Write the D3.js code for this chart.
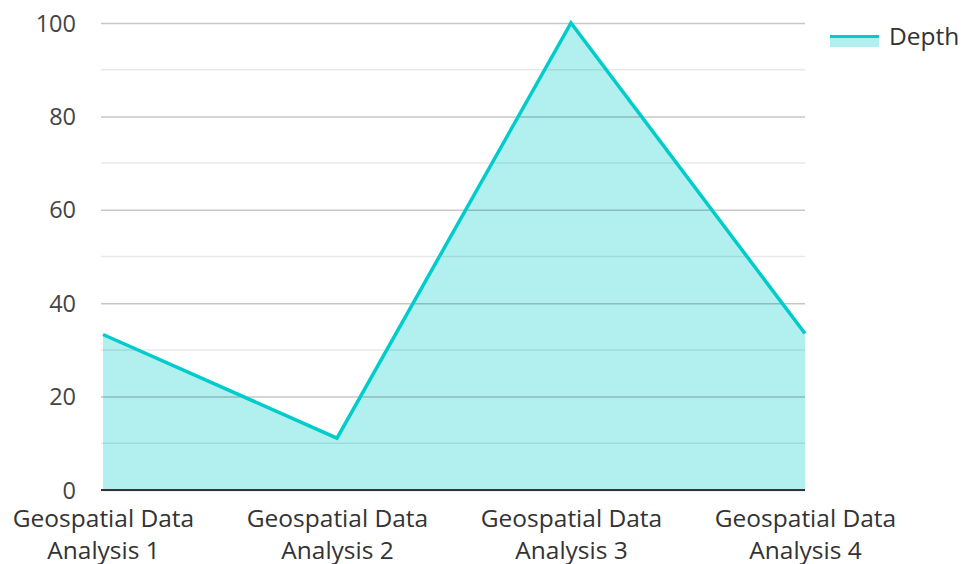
<!DOCTYPE html>
<html>
<head>
    <meta charset="utf-8">
    <style>
        body { margin: 0; background: #fff; font-family: "Open Sans", sans-serif; }
        svg { display: block; }
        .axis { font-family: "Open Sans", sans-serif; }
        .y .tick text { font-size: 23.5px; fill: #444; font-family: "Open Sans", sans-serif; }
        .x .tick text { font-size: 24.5px; fill: #333; font-family: "Open Sans", sans-serif; }
        .domain { display: none; }
    </style>
</head>
<body>
    <svg width="962" height="564"></svg>
<script src="https://d3js.org/d3.v7.min.js"></script>
<script>
    // chart data
    let categories = ["Geospatial Data Analysis 1", "Geospatial Data Analysis 2",
        "Geospatial Data Analysis 3", "Geospatial Data Analysis 4"]
    let depth = [33.3, 11.1, 100, 33.5]
    let yTicks = [0, 20, 40, 60, 80, 100]
    let minorTicks = [10, 30, 50, 70, 90]
    let seriesName = "Depth"

    let margin = { top: 23, right: 157, bottom: 74, left: 103 }
    let width = 962, height = 564

    let svg = d3.select("svg")

    let x = d3.scalePoint()
        .domain(categories)
        .range([margin.left, width - margin.right])

    let y = d3.scaleLinear()
        .domain([0, 100])
        .range([height - margin.bottom, margin.top])

    let data = categories.map((c, i) => ({ cat: c, v: depth[i] }))

    // area first, gridlines drawn on top so they show through
    let area = d3.area()
        .x(d => x(d.cat))
        .y0(y(0))
        .y1(d => y(d.v))

    svg.append("path")
        .datum(data)
        .attr("fill", "#00cccc")
        .attr("fill-opacity", 0.3)
        .attr("d", area)

    // minor grid
    svg.append("g")
        .selectAll("line")
        .data(minorTicks)
        .join("line")
        .attr("x1", margin.left - 2)
        .attr("x2", width - margin.right)
        .attr("y1", d => y(d))
        .attr("y2", d => y(d))
        .attr("stroke", "rgba(0,0,0,0.09)")
        .attr("stroke-width", 1.5)

    // major grid + labels
    let yAxis = svg.append("g")
        .attr("class", "y axis")
        .attr("transform", `translate(${margin.left - 2},0)`)
        .call(d3.axisLeft(y).tickValues(yTicks).tickSize(0).tickPadding(25))
        .attr("font-family", "Open Sans, sans-serif")
    yAxis.selectAll(".tick line")
        .attr("x2", width - margin.right - margin.left + 2)
        .attr("stroke", "rgba(0,0,0,0.22)")
        .attr("stroke-width", 1.5)
    yAxis.selectAll(".tick text").attr("dy", "0.34em")

    let line = d3.line()
        .x(d => x(d.cat))
        .y(d => y(d.v))

    svg.append("path")
        .datum(data)
        .attr("fill", "none")
        .attr("stroke", "#00cccc")
        .attr("stroke-width", 3.5)
        .attr("d", line)

    // baseline
    svg.append("line")
        .attr("x1", margin.left - 2)
        .attr("x2", width - margin.right)
        .attr("y1", y(0))
        .attr("y2", y(0))
        .attr("stroke", "#333")
        .attr("stroke-width", 2)

    // x axis with wrapped labels
    let xAxis = svg.append("g")
        .attr("class", "x axis")
        .attr("transform", `translate(0,${y(0)})`)
        .call(d3.axisBottom(x).tickSize(0).tickPadding(0))
        .attr("font-family", "Open Sans, sans-serif")
    xAxis.selectAll(".tick text").each(function (d) {
        let t = d3.select(this)
        let words = d.split(" ")
        let l1 = words.slice(0, 2).join(" ")
        let l2 = words.slice(2).join(" ")
        t.text(null).attr("y", 0).attr("dy", null)
        t.append("tspan").attr("x", 0).attr("y", 37).text(l1)
        t.append("tspan").attr("x", 0).attr("y", 69).text(l2)
    })

    // legend
    let lg = svg.append("g").attr("transform", "translate(830,35)")
    lg.append("rect")
        .attr("x", 0).attr("y", 0).attr("width", 49).attr("height", 12)
        .attr("fill", "#00cccc").attr("fill-opacity", 0.3)
    lg.append("line")
        .attr("x1", 0).attr("x2", 49).attr("y1", 1.5).attr("y2", 1.5)
        .attr("stroke", "#00cccc").attr("stroke-width", 3)
    lg.append("text")
        .attr("x", 59).attr("y", 1)
        .attr("dy", "0.35em")
        .style("font-size", "24.5px")
        .style("fill", "#333")
        .text(seriesName)
</script>
</body>
</html>
